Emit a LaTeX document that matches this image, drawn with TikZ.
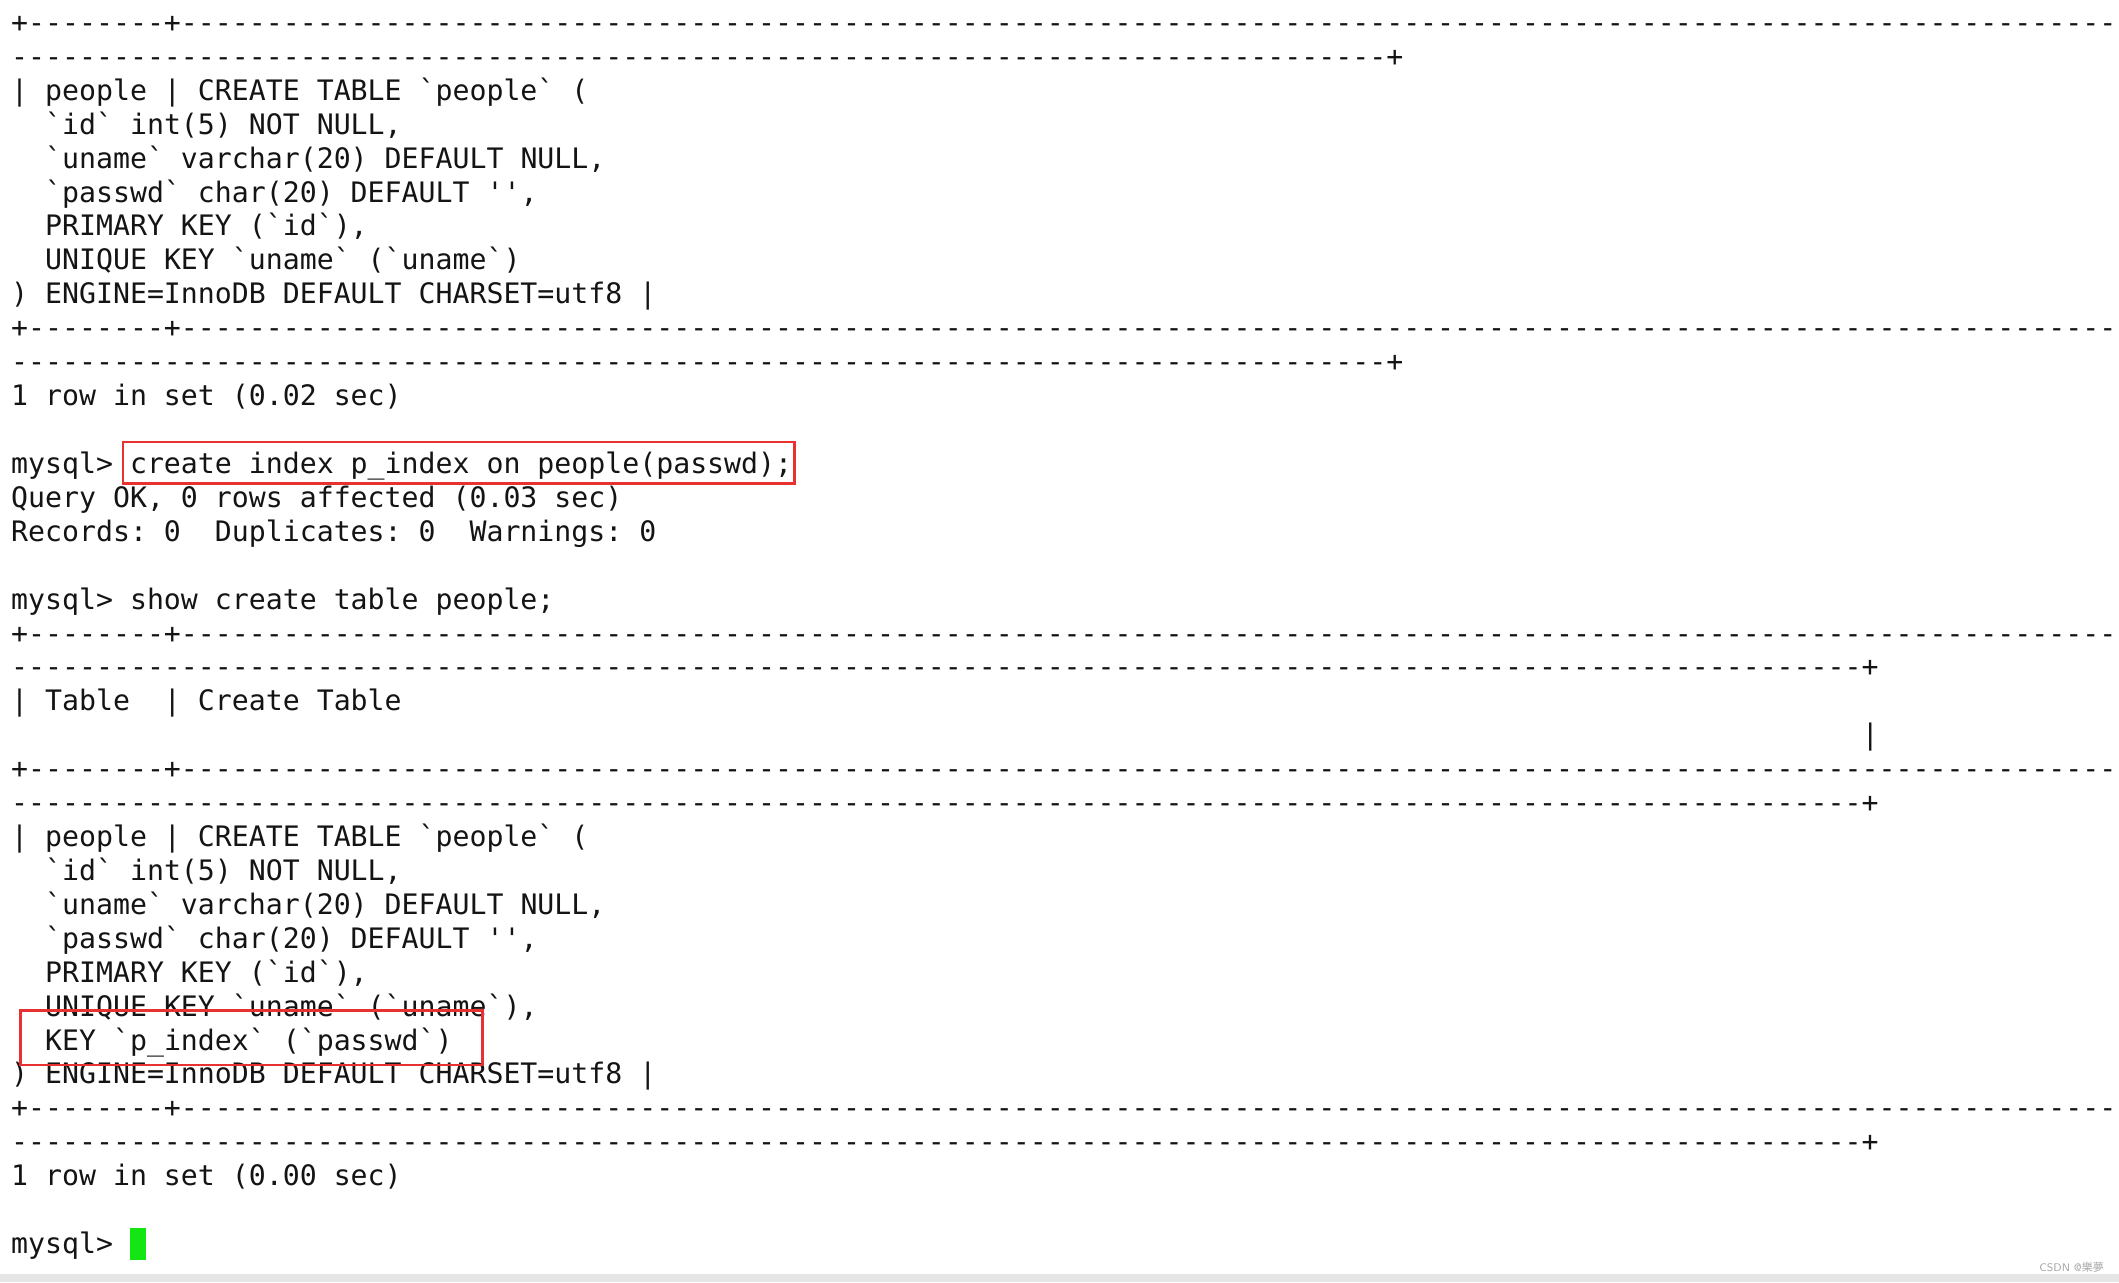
\documentclass[tikz,border=0pt]{standalone}
\usepackage{fontspec}
\newfontfamily\term{DejaVu Sans Mono}
\newfontfamily\cjk{Noto Sans CJK SC}
\frenchspacing
\def\rep#1#2{\ifnum#1>0 #2\expandafter\rep\expandafter{\the\numexpr#1-1\relax}{#2}\fi}
\definecolor{txt}{RGB}{20,20,20}
\definecolor{redbox}{RGB}{232,50,50}
\definecolor{cursor}{RGB}{20,230,20}
\begin{document}
\begin{tikzpicture}[x=0.6757pt,y=-0.6757pt,
  ln/.style={anchor=base west,inner sep=0pt,font=\term\fontsize{14.1pt}{17pt}\selectfont\frenchspacing,text=txt},
  hl/.style={draw=redbox,line width=1.4pt}]
\useasboundingbox (0,0) rectangle (1568,949);
\fill[white] (0,0) rectangle (1568,949);
\fill[gray!20] (0,943) rectangle (1568,949);
\begin{scope}
\clip (0,0) rectangle (1568,949);
\def\L#1#2#3{\node[ln] (#1) at (8,{16+(#2-1)*25.1+8}) {#3};}
\def\Top{+\rep{8}{-}+\rep{130}{-}}
\L{l1}{1}{\Top}
\L{l2}{2}{\rep{81}{-}+}
\L{l3}{3}{| people | CREATE TABLE `people` (}
\L{l4}{4}{~~`id` int(5) NOT NULL,}
\L{l5}{5}{~~`uname` varchar(20) DEFAULT NULL,}
\L{l6}{6}{~~`passwd` char(20) DEFAULT '',}
\L{l7}{7}{~~PRIMARY KEY (`id`),}
\L{l8}{8}{~~UNIQUE KEY `uname` (`uname`)}
\L{l9}{9}{) ENGINE=InnoDB DEFAULT CHARSET=utf8 |}
\L{l10}{10}{\Top}
\L{l11}{11}{\rep{81}{-}+}
\L{l12}{12}{1 row in set (0.02 sec)}
\L{l14}{14}{mysql> create index p\_index on people(passwd);}
\L{l15}{15}{Query OK, 0 rows affected (0.03 sec)}
\L{l16}{16}{Records: 0~~Duplicates: 0~~Warnings: 0}
\L{l18}{18}{mysql> show create table people;}
\L{l19}{19}{\Top}
\L{l20}{20}{\rep{109}{-}+}
\L{l21}{21}{| Table~~| Create Table}
\L{l22}{22}{\rep{109}{~}|}
\L{l23}{23}{\Top}
\L{l24}{24}{\rep{109}{-}+}
\L{l25}{25}{| people | CREATE TABLE `people` (}
\L{l26}{26}{~~`id` int(5) NOT NULL,}
\L{l27}{27}{~~`uname` varchar(20) DEFAULT NULL,}
\L{l28}{28}{~~`passwd` char(20) DEFAULT '',}
\L{l29}{29}{~~PRIMARY KEY (`id`),}
\L{l30}{30}{~~UNIQUE KEY `uname` (`uname`),}
\L{l31}{31}{~~KEY `p\_index` (`passwd`)}
\L{l32}{32}{) ENGINE=InnoDB DEFAULT CHARSET=utf8 |}
\L{l33}{33}{\Top}
\L{l34}{34}{\rep{109}{-}+}
\L{l35}{35}{1 row in set (0.00 sec)}
\L{l37}{37}{mysql> }
\end{scope}
\fill[cursor] (96,909) rectangle (108,932);
\draw[hl] (91,327) rectangle (588,358);
\draw[hl] (15,748) rectangle (357,788);
\node[anchor=east,inner sep=0pt,text=gray!70,font=\fontsize{5.5pt}{6pt}\selectfont] (wm) at (1557,938) {\sffamily CSDN @\cjk 樂夢};
\end{tikzpicture}
\end{document}
